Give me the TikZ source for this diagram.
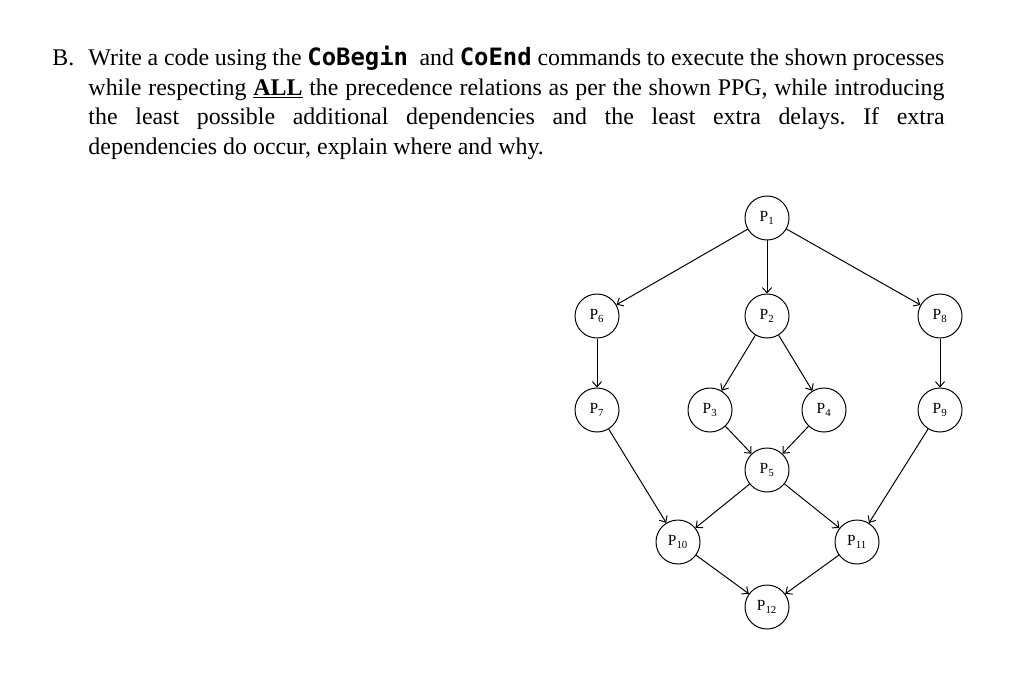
\documentclass[tikz,border=0pt]{standalone}
\usepackage{fontspec}
\setmainfont{Liberation Serif}
\setmonofont{DejaVu Sans Mono}
\usetikzlibrary{positioning,arrows.meta}

\begin{document}
\begin{tikzpicture}[x=0.25mm, y=-0.25mm, on grid, line width=0.7pt,
    >={Straight Barb[length=1.3mm, width=2.3mm]},
    proc/.style={draw, circle, minimum size=11mm, inner sep=0pt, font=\fontsize{11}{12}\selectfont},
    question/.style={font=\fontsize{17}{21}\selectfont, inner sep=0pt}]
  \useasboundingbox (0,0) rectangle (1024,688);

  % Question text
  \node[question, anchor=north west, text width=223mm, align=justify] (qtext) at (52,46)
    {\frenchspacing\hangindent=9mm\hangafter=1
     \makebox[9mm][l]{B.}Write a code using the \texttt{\textbf{CoBegin}}\ \ and \texttt{\textbf{CoEnd}} commands to execute the shown processes\linebreak
     while respecting \underline{\textbf{ALL}} the precedence relations as per the shown PPG, while introducing\linebreak
     the least possible additional dependencies and the least extra delays. If extra\linebreak
     dependencies do occur, explain where and why.\par};

  % PPG
  \node[proc] (p1) at (767,218) {P\textsubscript{1}};
  \node[proc, below=24.5mm of p1] (p2) {P\textsubscript{2}};
  \node[proc, left=42.5mm of p2] (p6) {P\textsubscript{6}};
  \node[proc, right=43.25mm of p2] (p8) {P\textsubscript{8}};
  \node[proc, below=23.5mm of p6] (p7) {P\textsubscript{7}};
  \node[proc, below=23.5mm of p8] (p9) {P\textsubscript{9}};
  \node[proc, below left=23.5mm and 14.25mm of p2] (p3) {P\textsubscript{3}};
  \node[proc, below right=23.5mm and 14.25mm of p2] (p4) {P\textsubscript{4}};
  \node[proc, below=38.5mm of p2] (p5) {P\textsubscript{5}};
  \node[proc, below left=18mm and 22.25mm of p5] (p10) {P\textsubscript{10}};
  \node[proc, below right=18mm and 22.5mm of p5] (p11) {P\textsubscript{11}};
  \node[proc, below=34.25mm of p5] (p12) {P\textsubscript{12}};

  % Precedence arrows
  \draw[->] (p1) -- (p6);
  \draw[->] (p1) -- (p2);
  \draw[->] (p1) -- (p8);
  \draw[->] (p6) -- (p7);
  \draw[->] (p8) -- (p9);
  \draw[->] (p2) -- (p3);
  \draw[->] (p2) -- (p4);
  \draw[->] (p3) -- (p5);
  \draw[->] (p4) -- (p5);
  \draw[->] (p7) -- (p10);
  \draw[->] (p5) -- (p10);
  \draw[->] (p5) -- (p11);
  \draw[->] (p9) -- (p11);
  \draw[->] (p10) -- (p12);
  \draw[->] (p11) -- (p12);
\end{tikzpicture}
\end{document}
